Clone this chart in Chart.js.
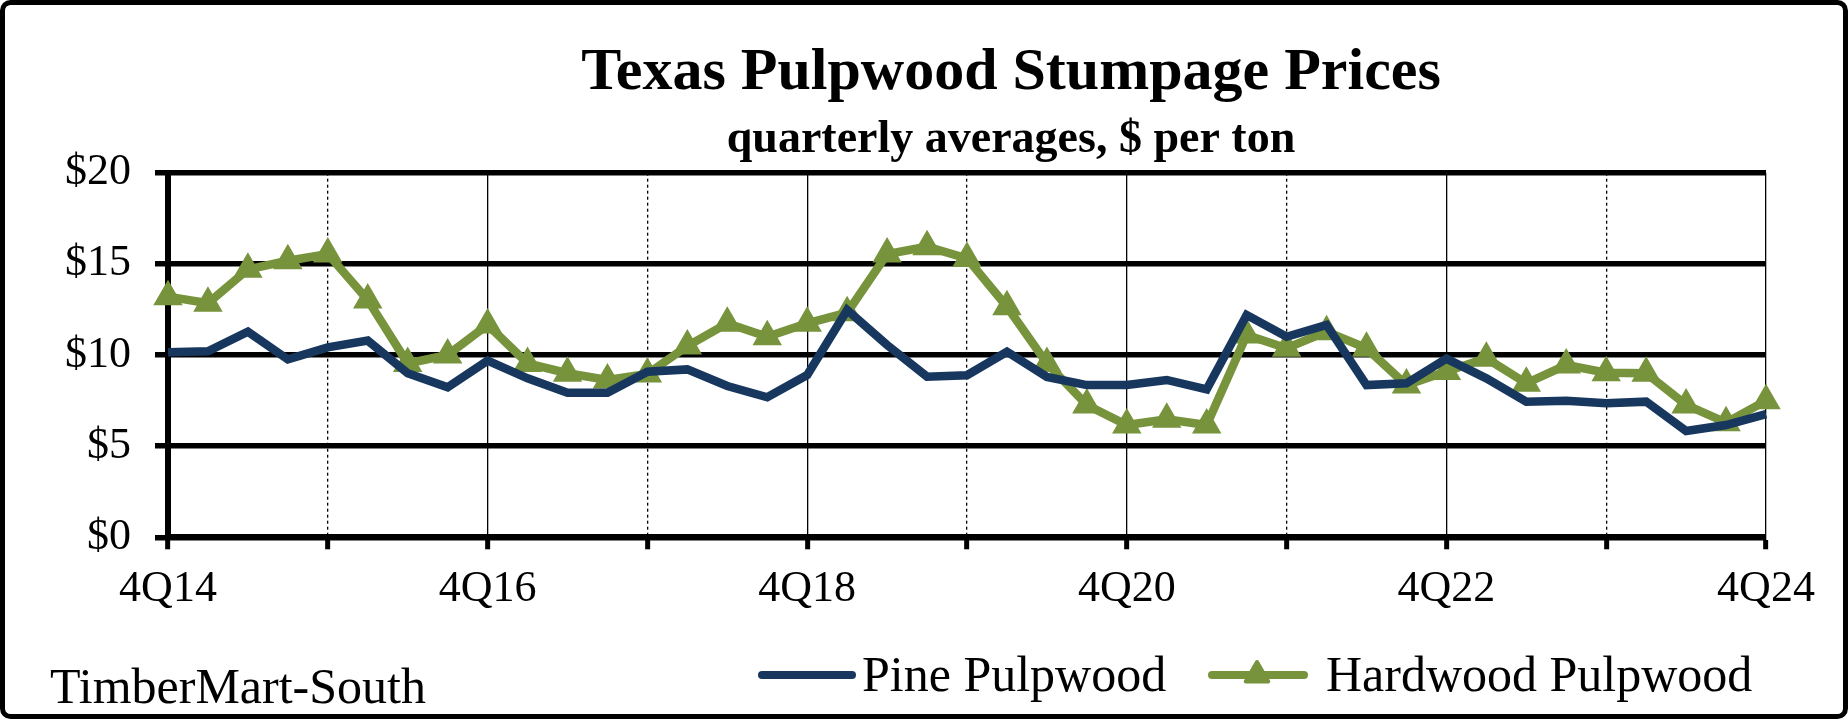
<!DOCTYPE html>
<html>
<head>
<meta charset="utf-8">
<script src="https://cdn.jsdelivr.net/npm/chart.js@4.4.1/dist/chart.umd.min.js"></script>
<style>
  html, body { margin: 0; padding: 0; background: #fff; }
  #wrap { position: relative; width: 1848px; height: 719px; }
</style>
</head>
<body>
<div id="wrap"><canvas id="myChart"></canvas></div>
<script>
/* ============== Data ===========*/

const quarters = [
  '4Q14',
  '1Q15', '2Q15', '3Q15', '4Q15',
  '1Q16', '2Q16', '3Q16', '4Q16',
  '1Q17', '2Q17', '3Q17', '4Q17',
  '1Q18', '2Q18', '3Q18', '4Q18',
  '1Q19', '2Q19', '3Q19', '4Q19',
  '1Q20', '2Q20', '3Q20', '4Q20',
  '1Q21', '2Q21', '3Q21', '4Q21',
  '1Q22', '2Q22', '3Q22', '4Q22',
  '1Q23', '2Q23', '3Q23', '4Q23',
  '1Q24', '2Q24', '3Q24', '4Q24'
];

const pinePulpwood = [
  10.15,
  10.20, 11.28, 9.76, 10.42,
  10.79, 9.00, 8.23, 9.69,
  8.72, 7.93, 7.93, 9.08,
  9.21, 8.30, 7.68, 8.90,
  12.47, 10.55, 8.81, 8.89,
  10.18, 8.80, 8.35, 8.35,
  8.63, 8.12, 12.19, 11.00,
  11.65, 8.35, 8.45, 9.80,
  8.72, 7.44, 7.49, 7.35,
  7.44, 5.83, 6.16, 6.76
];

const hardwoodPulpwood = [
  13.20,
  12.84, 14.70, 15.17, 15.54,
  13.02, 9.54, 10.00, 11.65,
  9.54, 9.00, 8.63, 8.96,
  10.49, 11.74, 11.00, 11.74,
  12.32, 15.54, 15.94, 15.30,
  12.65, 9.54, 7.26, 6.16,
  6.47, 6.16, 11.10, 10.37,
  11.28, 10.37, 8.35, 9.10,
  9.82, 8.45, 9.45, 9.03,
  9.00, 7.26, 6.29, 7.49
];

const yTickStep = 5;
const yMax = 20;

/* ============== Estilo ===========*/

const FONT = "'Liberation Serif', 'Times New Roman', serif";
const navy = '#17375E';
const olive = '#77933C';

/* ============== Titulo, legenda e moldura ===========*/

const decor = {
  id: 'decor',
  afterDraw(chart) {
    const ctx = chart.ctx;
    ctx.save();

    // moldura
    ctx.lineWidth = 5;
    ctx.strokeStyle = '#000';
    ctx.beginPath();
    ctx.roundRect(2.5, 2.5, 1843, 714, 8);
    ctx.stroke();

    // titulo
    ctx.fillStyle = '#000';
    ctx.textAlign = 'center';
    ctx.textBaseline = 'alphabetic';
    ctx.font = 'bold 60px ' + FONT;
    ctx.fillText('Texas Pulpwood Stumpage Prices', 1011, 89);
    ctx.font = 'bold 46px ' + FONT;
    ctx.fillText('quarterly averages, $ per ton', 1011, 152);

    // fonte
    ctx.textAlign = 'left';
    ctx.font = '50px ' + FONT;
    ctx.fillText('TimberMart-South', 50, 703);

    // legenda
    ctx.lineCap = 'round';
    ctx.lineWidth = 8;
    ctx.strokeStyle = navy;
    ctx.beginPath();
    ctx.moveTo(762, 675);
    ctx.lineTo(852, 675);
    ctx.stroke();
    ctx.fillText('Pine Pulpwood', 862, 691);

    ctx.strokeStyle = olive;
    ctx.beginPath();
    ctx.moveTo(1212, 675);
    ctx.lineTo(1304, 675);
    ctx.stroke();
    ctx.fillStyle = olive;
    ctx.lineWidth = 4;
    ctx.lineJoin = 'round';
    Chart.helpers.drawPoint(ctx, { pointStyle: 'triangle', radius: 13, borderWidth: 4, rotation: 0 }, 1257, 675);
    ctx.fillStyle = '#000';
    ctx.fillText('Hardwood Pulpwood', 1326, 691);

    ctx.restore();
  }
};

/* ============== Grafico ===========*/

const graf = document.getElementById('myChart');

const data = {
  labels: quarters,
  datasets: [{
    label: 'Pine Pulpwood',
    data: pinePulpwood,
    borderColor: navy,
    backgroundColor: navy,
    borderWidth: 8.5,
    pointRadius: 0,
    clip: false
  }, {
    label: 'Hardwood Pulpwood',
    data: hardwoodPulpwood,
    borderColor: olive,
    backgroundColor: olive,
    borderWidth: 8.5,
    pointStyle: 'triangle',
    pointRadius: 13,
    pointBorderWidth: 4,
    pointBackgroundColor: olive,
    pointBorderColor: olive,
    clip: false
  }]
};

const config = {
  type: 'line',
  data,
  options: {
    responsive: true,
    maintainAspectRatio: false,
    animation: false,
    layout: { padding: { top: 172.7, right: 82, left: 0, bottom: 0 } },
    plugins: {
      legend: { display: false },
      title: { display: false },
      tooltip: { enabled: false }
    },
    scales: {
      x: {
        offset: false,
        grid: {
          color: c => (c.index % 4 === 0 ? '#000' : 'rgba(0,0,0,0)'),
          lineWidth: 1.3,
          tickColor: c => (c.index % 4 === 0 ? '#000' : 'rgba(0,0,0,0)'),
          tickWidth: 5,
          tickLength: 12
        },
        border: {
          color: '#000',
          width: 6,
          dash: c => (c.index % 8 === 4 ? [3, 3] : [])
        },
        ticks: {
          autoSkip: false,
          maxRotation: 0,
          padding: 18,
          color: '#000',
          font: { family: FONT, size: 44, lineHeight: 1 },
          callback: function (v, i) { return i % 8 === 0 ? this.getLabelForValue(v) : ''; }
        },
        afterFit: s => { s.height = 181.7; }
      },
      y: {
        min: 0,
        max: yMax,
        grid: {
          color: '#000',
          lineWidth: 5.5,
          tickColor: '#000',
          tickWidth: 5.5,
          tickLength: 13
        },
        border: { color: '#000', width: 6 },
        ticks: {
          stepSize: yTickStep,
          padding: 24,
          color: '#000',
          font: { family: FONT, size: 44, lineHeight: 1 },
          callback: v => '$' + v
        },
        afterFit: s => { s.width = 168; }
      }
    }
  },
  plugins: [decor]
};

const myChart = new Chart(graf, config);
</script>
</body>
</html>
